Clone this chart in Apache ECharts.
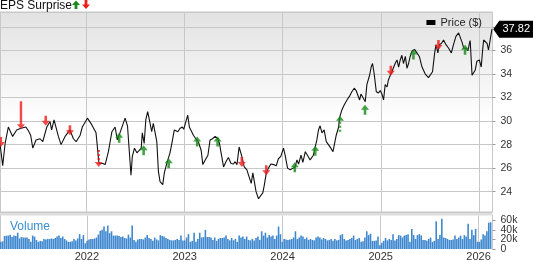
<!DOCTYPE html>
<html><head><meta charset="utf-8">
<script src="https://cdn.jsdelivr.net/npm/echarts@6/dist/echarts.min.js"></script>
<style>html,body{margin:0;padding:0;background:#fff}#c{width:533px;height:262px}</style>
</head><body><div id="c"></div>
<script>
// ---------------- DATA ----------------
const priceDates = ['2021-02-14','2021-02-24','2021-03-05','2021-03-17','2021-04-02','2021-04-17','2021-05-03','2021-05-21','2021-05-30','2021-06-08',
'2021-06-16','2021-06-28','2021-07-13','2021-07-23','2021-08-07','2021-08-19','2021-08-25','2021-09-03','2021-09-19','2021-09-29',
'2021-10-14','2021-11-01','2021-11-14','2021-11-24','2021-12-09','2021-12-17','2022-01-05','2022-01-21','2022-02-06','2022-02-17',
'2022-03-03','2022-03-12','2022-03-24','2022-04-06','2022-04-18','2022-04-26','2022-05-06','2022-05-25','2022-06-03','2022-06-16',
'2022-06-21','2022-06-29','2022-07-08','2022-07-16','2022-07-24','2022-07-28','2022-08-04','2022-08-10','2022-08-17','2022-08-26',
'2022-09-01','2022-09-07','2022-09-20','2022-09-26','2022-10-02','2022-10-12','2022-10-18','2022-10-27','2022-11-08','2022-11-15',
'2022-11-24','2022-12-07','2022-12-16','2022-12-24','2022-12-29','2023-01-06','2023-01-13','2023-01-19','2023-01-26','2023-02-03',
'2023-02-12','2023-02-22','2023-03-04','2023-03-10','2023-03-19','2023-03-29','2023-04-06','2023-04-15','2023-04-25','2023-05-05',
'2023-05-11','2023-05-17','2023-05-26','2023-06-04','2023-06-13','2023-06-23','2023-07-02','2023-07-08','2023-07-15','2023-07-23',
'2023-08-02','2023-08-11','2023-08-21','2023-08-27','2023-09-06','2023-09-12','2023-09-17','2023-09-24','2023-10-03','2023-10-09',
'2023-10-19','2023-10-25','2023-11-01','2023-11-09','2023-11-18','2023-11-28','2023-12-04','2023-12-08','2023-12-16','2023-12-25',
'2024-01-04','2024-01-10','2024-01-19','2024-01-29','2024-02-08','2024-02-16','2024-02-23','2024-02-29','2024-03-09','2024-03-16',
'2024-03-25','2024-04-02','2024-04-12','2024-04-24','2024-05-01','2024-05-07','2024-05-13','2024-05-19','2024-05-26','2024-06-03',
'2024-06-11','2024-06-19','2024-06-28','2024-07-06','2024-07-12','2024-07-18','2024-07-27','2024-07-30','2024-08-08','2024-08-17',
'2024-08-27','2024-09-05','2024-09-14','2024-09-23','2024-09-30','2024-10-05','2024-10-13','2024-10-18','2024-10-25','2024-11-03',
'2024-11-09','2024-11-19','2024-11-25','2024-11-30','2024-12-06','2024-12-14','2024-12-22','2024-12-29','2025-01-04','2025-01-10',
'2025-01-16','2025-01-23','2025-01-28','2025-02-04','2025-02-10','2025-02-16','2025-02-22','2025-03-01','2025-03-07','2025-03-13',
'2025-03-19','2025-03-25','2025-04-01','2025-04-07','2025-04-13','2025-04-19','2025-04-26','2025-05-05','2025-05-14','2025-05-23',
'2025-06-02','2025-06-14','2025-06-26','2025-07-03','2025-07-11','2025-07-19','2025-07-24','2025-07-31','2025-08-05','2025-08-13',
'2025-08-21','2025-08-30','2025-09-09','2025-09-19','2025-09-27','2025-10-06','2025-10-16','2025-10-22','2025-10-29','2025-11-04',
'2025-11-12','2025-11-20','2025-11-25','2025-11-28','2025-12-05','2025-12-11','2025-12-17','2025-12-23','2026-01-01','2026-01-08',
'2026-01-13','2026-01-17','2026-01-23','2026-01-30','2026-02-04','2026-02-11','2026-02-17'];

const priceValues = [28.1,26.2,28.1,29.5,28.7,29.25,29.4,29.5,29.2,28.8,
27.7,28.4,28.5,28.25,29.5,29.96,29.25,30.1,28.7,28.0,
28.7,29.25,28.5,28.25,28.8,29.5,30.25,29.7,29.0,26.4,
26.4,26.3,27.4,29.1,29.5,28.4,29.0,30.25,29.6,25.4,
27.0,27.7,27.3,27.5,27.7,29.0,28.1,30.1,30.8,29.8,
29.1,29.8,28.25,25.7,24.85,24.6,25.6,26.4,27.3,28.1,
29.25,29.1,29.4,29.5,29.3,29.96,30.5,29.5,29.55,28.8,
28.5,28.2,27.5,26.3,26.7,27.1,28.4,28.5,28.7,28.5,
28.1,27.3,26.1,26.55,26.9,26.4,26.35,26.55,26.3,27.8,
27.0,26.1,25.85,25.4,24.7,25.6,25.5,24.0,23.4,23.5,
23.9,24.6,25.6,26.0,26.35,26.3,26.45,26.2,26.8,27.0,
27.7,27.1,26.0,25.85,26.0,26.1,26.7,26.35,27.1,26.5,
27.4,27.1,26.7,27.1,27.8,28.4,29.25,29.6,29.0,29.25,
28.25,28.0,27.7,27.4,28.1,28.8,29.5,30.25,30.95,31.4,
31.8,32.1,32.5,32.8,32.6,32.5,31.8,32.3,32.4,31.65,
33.1,33.9,34.6,34.9,34.05,32.5,32.4,32.6,32.3,31.8,
33.1,32.9,33.5,33.9,34.2,34.1,34.9,35.2,34.6,35.2,
35.6,34.9,35.5,34.5,34.9,35.5,35.96,36.1,35.8,35.5,
34.6,34.0,33.7,33.6,34.2,35.8,36.5,35.8,36.5,36.6,
36.9,36.5,36.2,35.8,36.5,37.2,37.5,37.35,36.7,36.2,
36.2,36.0,36.6,36.85,33.9,34.0,34.35,35.1,35.2,34.6,
35.96,36.9,36.8,36.6,36.05,35.96,37.82];

// weekly volume (thousands), first week starting 2021-02-14
const volumeStart = '2021-02-14';
const volumeValues = [15,16,27,28,28,30,25,28,27,34,
22,25,24,24,24,21,15,28,26,19,
15,17,16,21,20,21,21,22,21,23,
26,28,23,26,21,18,15,15,16,21,
18,22,31,21,29,12,17,20,21,21,
22,24,30,38,40,47,37,49,33,37,
28,28,28,27,25,26,23,22,30,24,
49,19,15,20,21,21,20,24,29,23,
21,17,24,20,18,29,27,26,23,21,
19,18,18,19,21,19,28,18,18,24,
31,15,17,34,15,21,34,24,25,40,
25,25,24,19,24,17,21,23,23,24,
28,21,18,23,18,21,15,28,24,26,
21,26,19,18,21,18,23,26,19,37,
28,34,24,29,26,28,21,28,47,31,
15,21,20,19,20,21,24,37,21,24,
28,26,21,24,19,21,19,18,24,26,
24,20,23,21,18,19,21,17,21,18,
19,29,31,21,18,19,21,23,28,19,
21,23,15,16,24,37,29,32,17,17,
18,26,8,13,17,23,18,21,19,31,
18,21,29,28,24,28,29,31,15,42,
29,21,29,31,28,19,19,17,21,24,
15,17,58,21,29,63,24,23,21,19,
19,20,28,21,24,28,21,29,26,53,
21,40,29,42,15,15,20,31,28,37,
55,56];

// EPS surprise markers
const missDates  = ['2021-02-17','2021-05-03','2021-08-03','2021-11-01','2022-02-16','2023-08-02','2023-11-01','2025-02-06','2025-08-02'];
const missPrices = [27.8,29.3,29.6,28.8,26.1,26.1,25.4,33.85,36.05];
const beatDates  = ['2022-05-03','2022-08-02','2022-11-03','2023-02-17','2023-05-04','2024-02-15','2024-05-01','2024-08-01','2024-11-02','2025-05-01','2025-11-09'];
const beatPrices = [29.0,27.95,26.85,28.7,28.7,26.5,27.9,30.45,31.4,36.1,36.5];

const xRange = ['2021-02-14','2026-02-19'];
const priceRange = [22.27, 39.28];
const volumeMax = 70;
const volumeTicksA = [0, 40];
const volumeTicksB = [20, 60];

// ---------------- CHART ----------------
const FONT = '"Liberation Sans", Arial, Helvetica, sans-serif';
const GRID = '#c8c8c8';
const RED = '#f01c1c', GREEN = '#178a17';

const UP = {symbol:'path://M4,0L8,5H5.3V10H2.7V5H0Z', symbolSize:[8,10], symbolOffset:[0,5]};
const UP_DOTTED = {symbol:'path://M4,0L8,5H0Z M2.8,6H5.2V8H2.8Z M2.8,10H5.2V12H2.8Z M2.8,14H5.2V16H2.8Z', symbolSize:[8,16], symbolOffset:[0,8]};
const DOWN = {symbol:'path://M2.7,0H5.3V5H8L4,10L0,5H2.7Z', symbolSize:[8,10], symbolOffset:[0,-5]};
const DOWN_LONG = {symbol:'path://M2.8,0H5.2V23H8L4,28L0,23H2.8Z', symbolSize:[8,28], symbolOffset:[0,-14]};
const DOWN_DOTTED = {symbol:'path://M2.8,0H5.2V2H2.8Z M2.8,4H5.2V6H2.8Z M2.8,8H5.2V10H2.8Z M0,12H8L4,17Z', symbolSize:[8,17], symbolOffset:[0,-8.5]};
const missStyle = i => (i === 1 ? DOWN_LONG : i === 4 ? DOWN_DOTTED : DOWN);
const beatStyle = i => (i === 7 ? UP_DOTTED : UP);

const DAY = 86400000;
const startMs = new Date(volumeStart + 'T00:00:00').getTime();
const volumeData = volumeValues.map((v, i) => [startMs + i * 7 * DAY, v]);
const priceData = priceDates.map((d, i) => [d, priceValues[i]]);
const lastIdx = priceValues.length - 1;

const chart = echarts.init(document.getElementById('c'), null, {renderer: 'canvas'});
const xCommon = {
  type: 'time', min: xRange[0], max: xRange[1],
  minInterval: 365 * DAY, maxInterval: 366 * DAY,
  axisLine: {show: false}, axisTick: {show: false},
  splitLine: {show: true, lineStyle: {color: GRID, width: 1}}
};
const volLabel = ticks => ({
  customValues: ticks, showMinLabel: true, showMaxLabel: true, hideOverlap: false, margin: 8, fontSize: 10.5,
  color: '#333', fontFamily: FONT, formatter: v => (v === 0 ? '0' : v + 'k')
});
chart.setOption({
  animation: false,
  textStyle: {fontFamily: FONT},
  title: [
    {text: 'EPS Surprise', left: 0, top: 0, padding: 0, textStyle: {fontSize: 12, fontWeight: 'normal', color: '#111', fontFamily: FONT}},
    {text: 'Volume', left: 10, top: 221, padding: 0, textStyle: {fontSize: 12, fontWeight: 'normal', color: '#3b8ed3', fontFamily: FONT}}
  ],
  legend: {
    data: ['Price ($)'], right: 51, top: 17, padding: 0, icon: 'rect', itemWidth: 9, itemHeight: 5, itemGap: 5,
    textStyle: {fontSize: 11, color: '#222', fontFamily: FONT}
  },
  grid: [
    {left: 0, right: 40.5, top: 12, height: 200, show: true, borderColor: GRID, borderWidth: 1,
     backgroundColor: {type: 'linear', x: 0, y: 0, x2: 0, y2: 1, colorStops: [
       {offset: 0, color: '#e2e2e2'}, {offset: 0.55, color: '#ffffff'}, {offset: 1, color: '#ffffff'}]}},
    {left: 0, right: 40.5, top: 215.5, height: 36.2, show: false}
  ],
  graphic: [
    {type: 'rect', shape: {x: 0, y: 212, width: 492.5, height: 3.5}, style: {fill: '#dedede'}, silent: true},
    {type: 'polygon', shape: {points: [[76,0.5],[80,5],[77.4,5],[77.4,9],[74.6,9],[74.6,5],[72,5]]}, style: {fill: GREEN}, silent: true},
    {type: 'polygon', shape: {points: [[84.6,0],[87.4,0],[87.4,4.5],[90,4.5],[86,9],[82,4.5],[84.6,4.5]]}, style: {fill: RED}, silent: true}
  ],
  xAxis: [
    Object.assign({gridIndex: 0, axisLabel: {show: false}}, xCommon),
    Object.assign({gridIndex: 1, axisLabel: {show: true, formatter: '{yyyy}', fontSize: 11, color: '#333', margin: 2,
      showMinLabel: false, showMaxLabel: false, fontFamily: FONT}}, xCommon)
  ],
  yAxis: [
    {type: 'value', gridIndex: 0, position: 'right', min: priceRange[0], max: priceRange[1], splitNumber: 8,
     axisLine: {show: false}, axisTick: {show: true, length: 3, lineStyle: {color: '#999'}},
     splitLine: {show: true, lineStyle: {color: GRID}},
     axisLabel: {showMinLabel: false, showMaxLabel: false, margin: 8, fontSize: 10.5, color: '#333', fontFamily: FONT,
       formatter: v => (v > 37.9 ? '' : String(v))}},
    {type: 'value', gridIndex: 1, position: 'right', min: 0, max: volumeMax,
     axisLine: {show: true, lineStyle: {color: GRID}},
     axisTick: {show: true, length: 3, customValues: volumeTicksA, lineStyle: {color: '#999'}},
     splitLine: {show: false}, axisLabel: volLabel(volumeTicksA)},
    {type: 'value', gridIndex: 1, position: 'right', offset: 0, min: 0, max: volumeMax,
     axisLine: {show: false},
     axisTick: {show: true, length: 3, customValues: volumeTicksB, lineStyle: {color: '#999'}},
     splitLine: {show: false}, axisLabel: volLabel(volumeTicksB)}
  ],
  series: [
    {type: 'bar', name: 'Volume', xAxisIndex: 1, yAxisIndex: 1, data: volumeData, barWidth: 1.6,
     itemStyle: {color: '#3f88cf'}, silent: true},
    {type: 'line', name: 'Price ($)', xAxisIndex: 0, yAxisIndex: 0, data: priceData, symbol: 'none', showSymbol: false,
     itemStyle: {color: '#000'}, lineStyle: {color: '#111', width: 1.1}, z: 3,
     markPoint: {
       symbol: 'path://M0,8.5L6,0H40V17H6Z', symbolSize: [40, 17], symbolOffset: [21.3, 0],
       itemStyle: {color: '#000'},
       label: {show: true, position: 'inside', offset: [3, 0], color: '#fff', fontSize: 11, fontFamily: FONT,
         formatter: p => Number(p.value).toFixed(2)},
       data: [{coord: [priceDates[lastIdx], priceValues[lastIdx]], value: priceValues[lastIdx]}]
     }},
    {type: 'scatter', name: 'miss', xAxisIndex: 0, yAxisIndex: 0, z: 5, itemStyle: {color: RED}, clip: false,
     data: missDates.map((d, i) => Object.assign({value: [d, missPrices[i]]}, missStyle(i)))},
    {type: 'scatter', name: 'beat', xAxisIndex: 0, yAxisIndex: 0, z: 5, itemStyle: {color: GREEN}, clip: false,
     data: beatDates.map((d, i) => Object.assign({value: [d, beatPrices[i]]}, beatStyle(i)))}
  ]
});
</script></body></html>
